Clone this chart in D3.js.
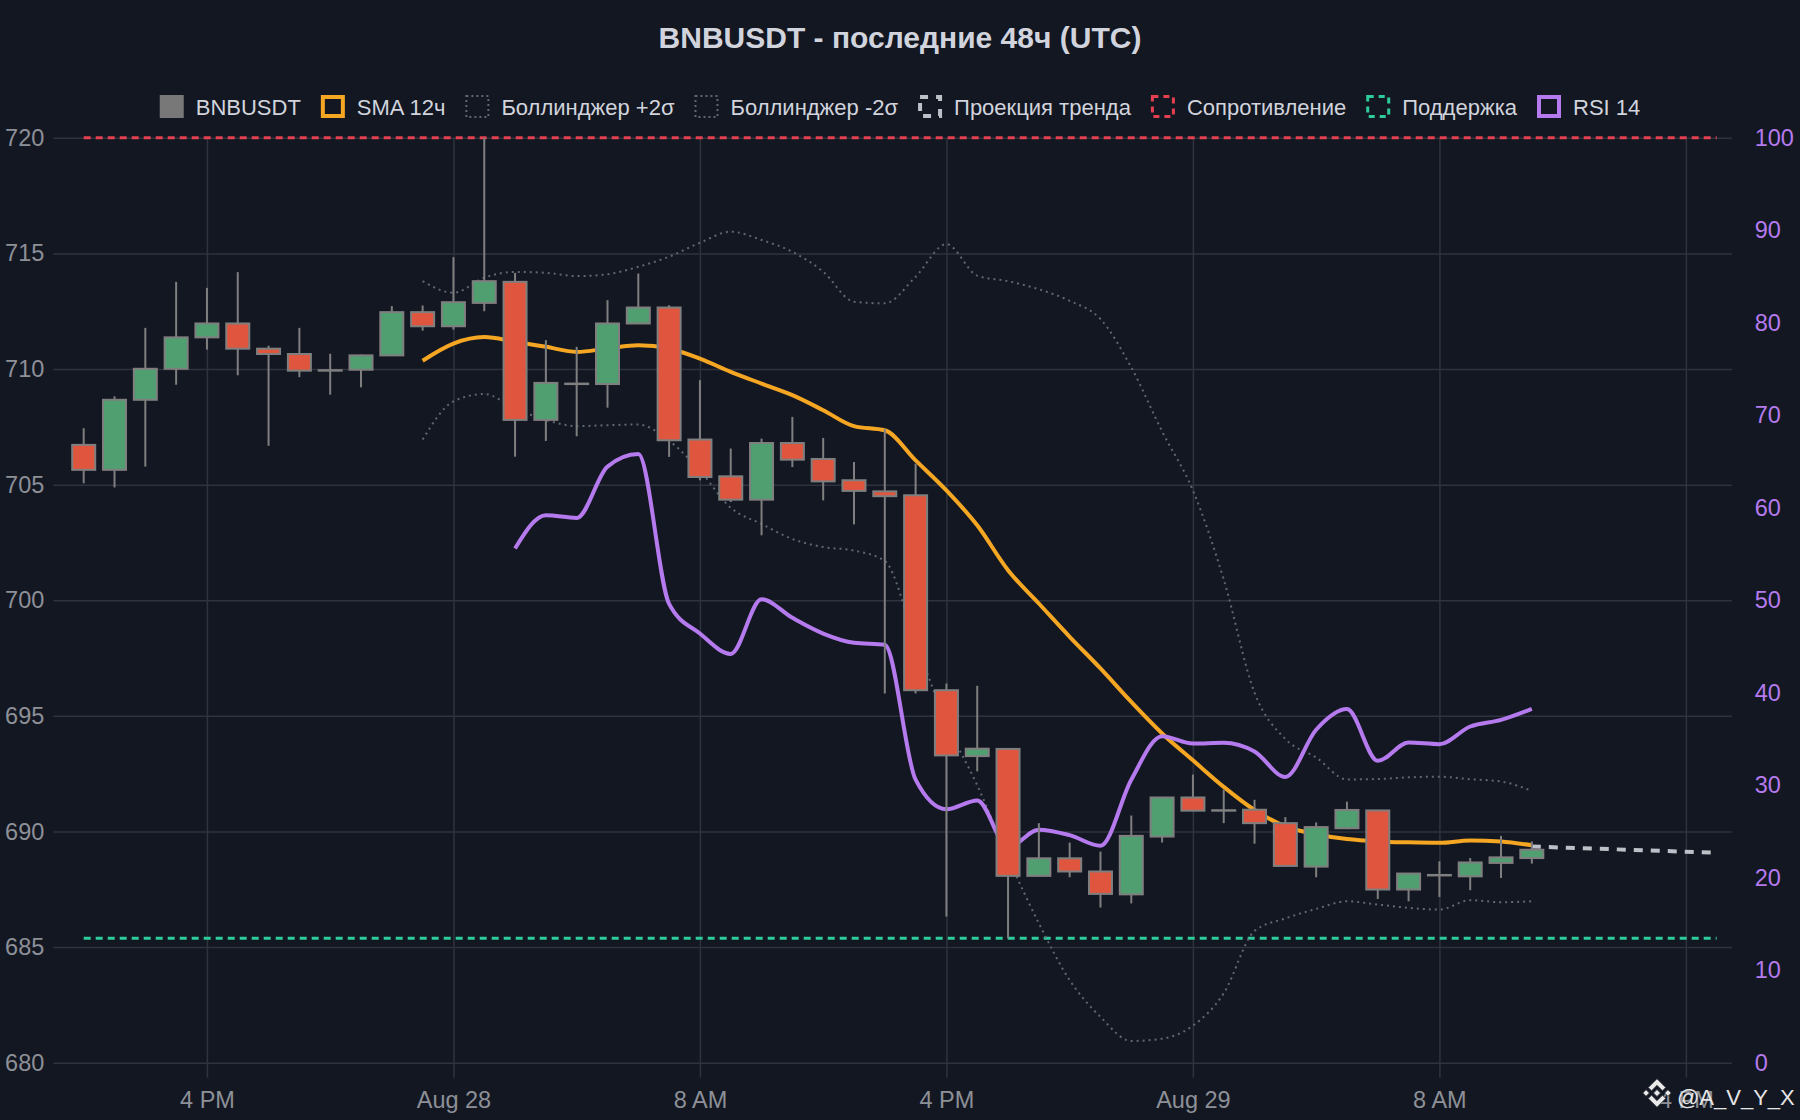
<!DOCTYPE html>
<html>
<head>
<meta charset="utf-8">
<script src="https://cdn.jsdelivr.net/npm/d3@7"></script>
<style>
  html, body { margin: 0; padding: 0; background: #131722; }
  svg { display: block; font-family: "Liberation Sans", Arial, sans-serif; }
</style>
</head>
<body>
<div id="chart"></div>
<script>
// hourly candles, first one Aug 27 12:00 UTC, last one Aug 29 11:00 UTC
var startTime = Date.UTC(2025, 7, 27, 12);

var opens = [706.72, 705.64, 708.67, 710.01, 711.37, 711.97, 710.88, 710.65, 709.95, 709.97,
  710.59, 712.46, 711.85, 712.86, 713.77, 707.80, 709.37, 709.35, 711.97, 712.66,
  706.95, 705.36, 704.35, 706.80, 706.11, 705.19, 704.71, 704.54, 696.11, 693.26,
  693.57, 688.08, 688.84, 688.27, 687.28, 689.78, 691.47, 690.92, 690.94, 690.36,
  688.48, 690.14, 690.91, 687.49, 688.12, 688.06, 688.64, 688.85];
var highs = [707.44, 708.82, 711.78, 713.77, 713.51, 714.19, 711.01, 711.78, 710.66, 710.62,
  712.72, 712.75, 714.84, 720.00, 714.16, 711.25, 710.96, 712.98, 714.13, 712.76,
  709.52, 706.56, 706.99, 707.93, 707.02, 705.98, 707.42, 705.91, 696.40, 696.30,
  693.60, 690.36, 689.52, 689.13, 690.69, 691.47, 692.46, 691.81, 691.37, 690.62,
  690.39, 691.29, 690.91, 688.18, 688.71, 688.85, 689.81, 689.57];
var lows = [705.06, 704.88, 705.78, 709.32, 710.84, 709.73, 706.68, 709.65, 708.89, 709.21,
  710.58, 711.66, 711.70, 712.50, 706.21, 706.89, 707.09, 708.33, 711.97, 706.20,
  705.19, 704.25, 702.81, 705.76, 704.32, 703.28, 695.97, 695.97, 686.32, 692.60,
  685.38, 688.05, 688.02, 686.71, 686.89, 689.52, 690.88, 690.36, 689.47, 688.50,
  688.02, 690.10, 687.08, 686.98, 687.17, 687.46, 687.99, 688.61];
var closes = [705.64, 708.67, 710.01, 711.37, 711.97, 710.88, 710.65, 709.93, 709.95, 710.59,
  712.46, 711.85, 712.89, 713.80, 707.80, 709.40, 709.37, 711.97, 712.66, 706.92,
  705.33, 704.35, 706.80, 706.08, 705.14, 704.73, 704.50, 696.11, 693.29, 693.58,
  688.08, 688.84, 688.27, 687.30, 689.81, 691.47, 690.90, 690.92, 690.36, 688.51,
  690.19, 690.93, 687.49, 688.18, 688.12, 688.66, 688.88, 689.21];

var sma12 = [null, null, null, null, null, null, null, null, null, null, null,
  710.36, 711.10, 711.38, 711.18, 710.96, 710.74, 710.89, 711.03, 710.89, 710.45,
  709.88, 709.37, 708.87, 708.22, 707.53, 707.35, 706.05, 704.75, 703.24, 701.30,
  699.86, 698.42, 697.05, 695.60, 694.24, 693.08, 691.93, 690.93, 690.22, 689.88,
  689.67, 689.57, 689.53, 689.51, 689.61, 689.57, 689.40];
var bbUpper = [null, null, null, null, null, null, null, null, null, null, null,
  713.80, 713.30, 713.95, 714.20, 714.16, 714.02, 714.10, 714.42, 714.86, 715.46,
  715.94, 715.58, 715.07, 714.21, 712.91, 712.84, 713.99, 715.40, 714.04, 713.80,
  713.45, 712.95, 712.16, 710.07, 707.30, 704.75, 700.90, 696.00, 694.00, 693.20,
  692.25, 692.27, 692.34, 692.37, 692.26, 692.16, 691.75];
var bbLower = [null, null, null, null, null, null, null, null, null, null, null,
  706.95, 708.60, 708.92, 708.30, 707.80, 707.53, 707.57, 707.60, 706.90, 705.60,
  704.00, 703.30, 702.65, 702.30, 702.15, 701.70, 698.20, 694.70, 692.00, 688.87,
  686.03, 683.57, 681.98, 680.94, 681.04, 681.60, 683.00, 685.70, 686.24, 686.65,
  686.98, 686.84, 686.70, 686.62, 687.03, 686.94, 686.98];
var rsi14 = [null, null, null, null, null, null, null, null, null, null, null, null, null, null,
  55.6, 59.2, 58.9, 64.45, 65.8, 49.6, 46.4, 44.2, 50.1, 48.1,
  46.4, 45.4, 45.2, 30.6, 27.4, 28.35, 23.3, 25.2, 24.6, 23.45,
  30.6, 35.3, 34.5, 34.6, 33.65, 30.9, 36.0, 38.23, 32.64, 34.62,
  34.44, 36.35, 37.07, 38.26];

var projTimes = ["2025-08-29T11:00:00Z", "2025-08-29T17:00:00Z"];
var projValues = [689.35, 689.08];
var resistanceLevel = 720.0;
var supportLevel = 685.38;
var levelTimes = ["2025-08-27T12:00:00Z", "2025-08-29T17:00:00Z"];

var priceTicks = [680, 685, 690, 695, 700, 705, 710, 715, 720];
var rsiTicks = [0, 10, 20, 30, 40, 50, 60, 70, 80, 90, 100];
var timeTicks = ["2025-08-27T16:00:00Z", "2025-08-28T00:00:00Z", "2025-08-28T08:00:00Z",
  "2025-08-28T16:00:00Z", "2025-08-29T00:00:00Z", "2025-08-29T08:00:00Z", "2025-08-29T16:00:00Z"];
var timeTickLabels = ["4 PM", "Aug 28", "8 AM", "4 PM", "Aug 29", "8 AM", "4 PM"];

var legendLabels = ["BNBUSDT", "SMA 12ч", "Боллинджер +2σ", "Боллинджер -2σ",
  "Проекция тренда", "Сопротивление", "Поддержка", "RSI 14"];
var titleText = "BNBUSDT - последние 48ч (UTC)";

// ---- styles / layout ----
var W = 1800, H = 1120;
var plot = { left: 68.3, right: 1716.7, top: 137.8, bottom: 1062.7 };
var tickLen = 15;
var bg = '#131722', gridColor = '#2f333e';
var upColor = '#4f9f71', downColor = '#e0553d', candleLine = '#7f7f7f';
var smaColor = '#f5a623', bbColor = '#5f6775', projColor = '#bcc0c7';
var resColor = '#e5404f', supColor = '#2ecc9a', rsiColor = '#b57bee';
var tickColor = '#8d9097', textColor = '#d1d4dc';

var legendStyles = [
  { fill: '#787878' },
  { stroke: smaColor, width: 4 },
  { stroke: bbColor, width: 2, dash: '2,3' },
  { stroke: bbColor, width: 2, dash: '2,3' },
  { stroke: projColor, width: 4, dash: '8,8' },
  { stroke: resColor, width: 3, dash: '6,5' },
  { stroke: supColor, width: 3, dash: '6,5' },
  { stroke: rsiColor, width: 4 }
];

var svg = d3.select('#chart').append('svg').attr('width', W).attr('height', H);
svg.append('rect').attr('width', W).attr('height', H).attr('fill', bg);

var x = d3.scaleUtc()
  .domain([new Date(Date.UTC(2025, 7, 27, 11, 30)), new Date(Date.UTC(2025, 7, 29, 17))])
  .range([plot.left, plot.right]);
var y = d3.scaleLinear().domain([680, 720]).range([plot.bottom, plot.top]);
var yR = d3.scaleLinear().domain([0, 100]).range([plot.bottom, plot.top]);

var candleData = opens.map(function(o, i) {
  return { t: new Date(startTime + i * 3600e3), o: o, h: highs[i], l: lows[i], c: closes[i] };
});
function series(values) {
  return values.map(function(v, i) { return { t: candleData[i].t, v: v }; });
}

// ---- axes & grid ----
var xAxis = d3.axisBottom(x)
  .tickValues(timeTicks.map(function(d) { return new Date(d); }))
  .tickFormat(function(d, i) { return timeTickLabels[i]; })
  .tickSize(plot.bottom - plot.top + tickLen).tickPadding(14);
var gx = svg.append('g').attr('transform', 'translate(0,' + plot.top + ')').call(xAxis);

var yAxis = d3.axisLeft(y).tickValues(priceTicks)
  .tickSize(-(plot.right - plot.left + 2 * tickLen)).tickPadding(9);
var gy = svg.append('g').attr('transform', 'translate(' + (plot.left - tickLen) + ',0)').call(yAxis);

var yAxisR = d3.axisRight(yR).tickValues(rsiTicks).tickSize(0).tickPadding(23);
var gyR = svg.append('g').attr('transform', 'translate(' + (plot.right + tickLen) + ',0)').call(yAxisR);

[gx, gy, gyR].forEach(function(g) {
  g.select('.domain').remove();
  g.selectAll('.tick line').attr('stroke', gridColor).attr('stroke-width', 1.5);
  g.selectAll('.tick text').attr('font-size', 23.5).attr('fill', tickColor)
    .attr('font-family', '"Liberation Sans", Arial, sans-serif');
});
gyR.selectAll('.tick text').attr('fill', rsiColor);

// ---- level lines ----
[[resistanceLevel, resColor], [supportLevel, supColor]].forEach(function(lv) {
  svg.append('line')
    .attr('x1', x(new Date(levelTimes[0]))).attr('x2', x(new Date(levelTimes[1])))
    .attr('y1', y(lv[0])).attr('y2', y(lv[0]))
    .attr('stroke', lv[1]).attr('stroke-width', 3).attr('stroke-dasharray', '7,5');
});

// ---- indicator lines ----
var priceLine = d3.line().defined(function(d) { return d.v != null; })
  .x(function(d) { return x(d.t); }).y(function(d) { return y(d.v); })
  .curve(d3.curveMonotoneX);
var rsiLine = d3.line().defined(function(d) { return d.v != null; })
  .x(function(d) { return x(d.t); }).y(function(d) { return yR(d.v); })
  .curve(d3.curveMonotoneX);

[bbUpper, bbLower].forEach(function(s) {
  svg.append('path').datum(series(s)).attr('d', priceLine)
    .attr('fill', 'none').attr('stroke', bbColor).attr('stroke-width', 2)
    .attr('stroke-dasharray', '2,4');
});
svg.append('path').datum(series(sma12)).attr('d', priceLine)
  .attr('fill', 'none').attr('stroke', smaColor).attr('stroke-width', 4);
svg.append('path').datum(series(rsi14)).attr('d', rsiLine)
  .attr('fill', 'none').attr('stroke', rsiColor).attr('stroke-width', 4)
  .attr('stroke-linejoin', 'round');
svg.append('path')
  .datum(projTimes.map(function(t, i) { return { t: new Date(t), v: projValues[i] }; }))
  .attr('d', d3.line().x(function(d) { return x(d.t); }).y(function(d) { return y(d.v); }))
  .attr('fill', 'none').attr('stroke', projColor).attr('stroke-width', 4)
  .attr('stroke-dasharray', '9,8');

// ---- candles ----
var bodyW = 23;
var cg = svg.append('g').selectAll('g').data(candleData).join('g');
cg.append('line')
  .attr('x1', function(d) { return x(d.t); }).attr('x2', function(d) { return x(d.t); })
  .attr('y1', function(d) { return y(d.h); }).attr('y2', function(d) { return y(d.l); })
  .attr('stroke', candleLine).attr('stroke-width', 2);
cg.append('rect')
  .attr('x', function(d) { return x(d.t) - bodyW / 2; })
  .attr('y', function(d) { return y(Math.max(d.o, d.c)); })
  .attr('width', bodyW)
  .attr('height', function(d) { return Math.max(0.5, Math.abs(y(d.o) - y(d.c))); })
  .attr('fill', function(d) { return d.c > d.o ? upColor : (d.c < d.o ? downColor : candleLine); })
  .attr('stroke', candleLine).attr('stroke-width', 2);

// ---- title ----
svg.append('text').attr('x', W / 2).attr('y', 48).attr('text-anchor', 'middle')
  .attr('font-size', 30).attr('font-weight', 'bold').attr('fill', textColor)
  .text(titleText);

// ---- legend ----
var lg = svg.append('g');
var lx = 0, symW = 24, symH = 23;
legendLabels.forEach(function(label, i) {
  var st = legendStyles[i];
  var item = lg.append('g').attr('transform', 'translate(' + lx + ',0)');
  if (st.fill) {
    item.append('rect').attr('x', 0).attr('y', 95).attr('width', symW).attr('height', symH)
      .attr('fill', st.fill);
  } else {
    item.append('rect').attr('x', st.width / 2).attr('y', 95 + st.width / 2)
      .attr('width', symW - st.width).attr('height', symH - st.width)
      .attr('fill', 'none').attr('stroke', st.stroke).attr('stroke-width', st.width)
      .attr('stroke-dasharray', st.dash || null);
  }
  var t = item.append('text').attr('x', symW + 12).attr('y', 114.5)
    .attr('font-size', 22).attr('fill', textColor).text(label);
  lx += symW + 12 + t.node().getComputedTextLength() + 20;
});
var legendW = lx - 20;
lg.attr('transform', 'translate(' + (W / 2 - legendW / 2) + ',0)');

// ---- watermark ----
var wm = svg.append('g').attr('transform', 'translate(1657,1093) scale(1.05)');
var logoParts = [
  [[0, -13.5], [8.3, -5.2], [5.2, -2.1], [0, -7.3], [-5.2, -2.1], [-8.3, -5.2]],
  [[0, 13.5], [8.3, 5.2], [5.2, 2.1], [0, 7.3], [-5.2, 2.1], [-8.3, 5.2]],
  [[0, -3.3], [3.3, 0], [0, 3.3], [-3.3, 0]],
  [[-13.5, 0], [-10.4, -3.1], [-7.3, 0], [-10.4, 3.1]],
  [[13.5, 0], [10.4, -3.1], [7.3, 0], [10.4, 3.1]]
];
logoParts.forEach(function(p) {
  wm.append('path').attr('d', 'M' + p.join('L') + 'Z')
    .attr('fill', '#e9e9e9').attr('stroke', '#3a3d44').attr('stroke-width', 0.8);
});
svg.append('text').attr('x', 1677).attr('y', 1105).attr('font-size', 22)
  .attr('fill', '#e6e6e6').text('@A_V_Y_X');
</script>
</body>
</html>
